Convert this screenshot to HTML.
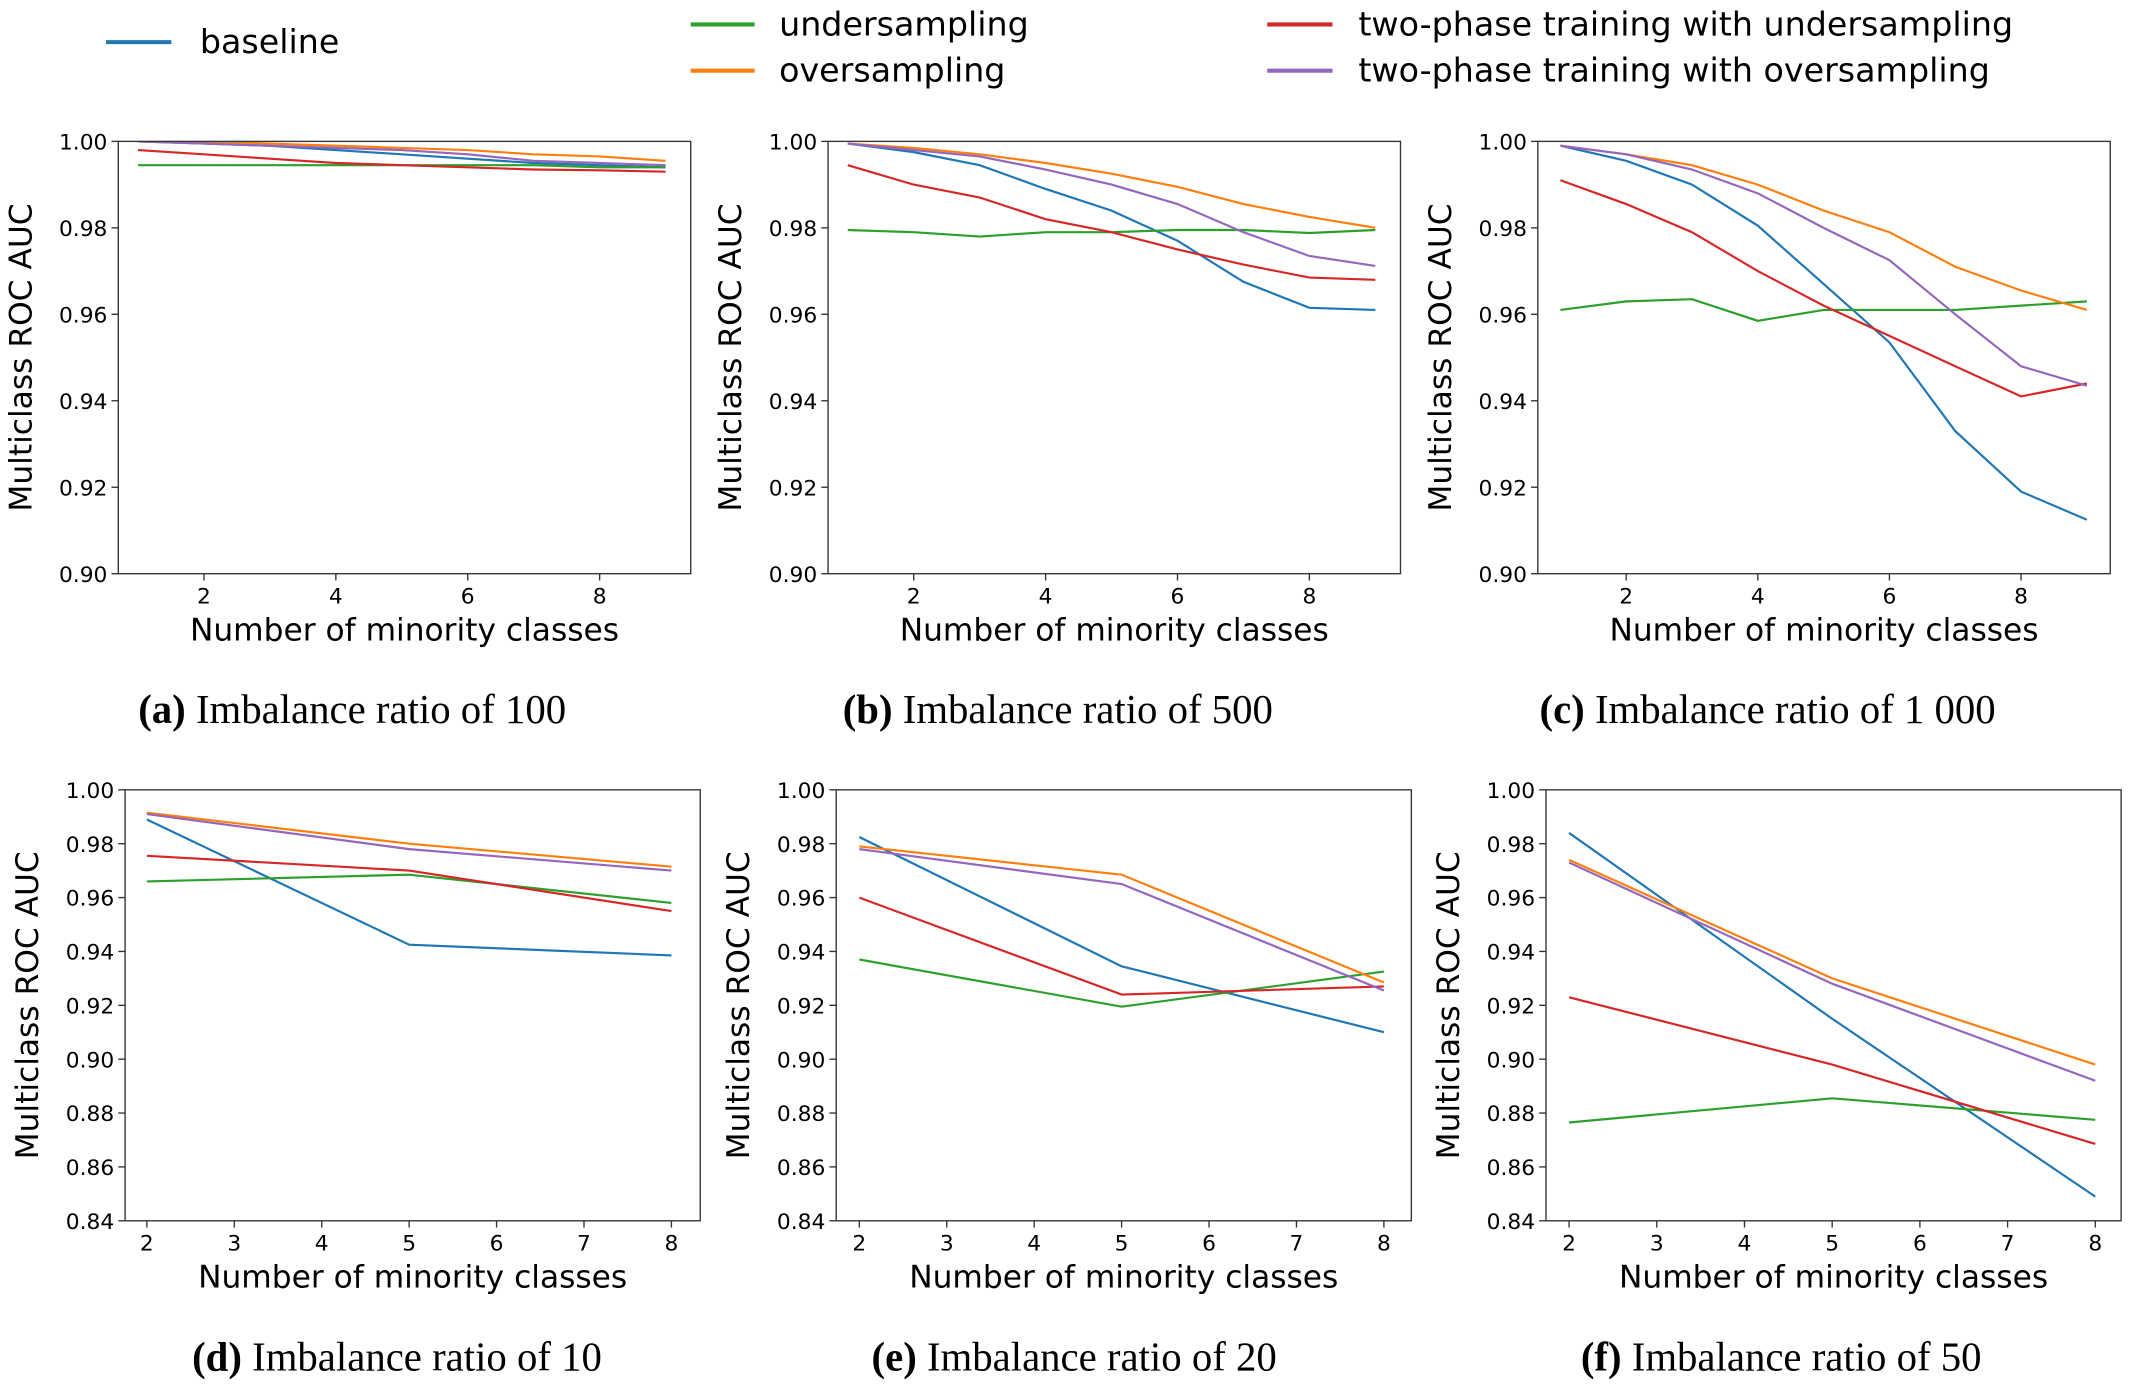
<!DOCTYPE html>
<html><head><meta charset="utf-8"><style>body{margin:0;background:#fff}svg{display:block}</style></head>
<body>
<svg id="s" xmlns="http://www.w3.org/2000/svg" width="2132" height="1388" viewBox="0 0 1568 1021" preserveAspectRatio="none" font-family="'DejaVu Sans','Liberation Sans',sans-serif">
<rect width="1568" height="1021" fill="#fff"/>
<g font-size="24.5" fill="#000">
<line x1="78" y1="31" x2="126" y2="31" stroke="#1f77b4" stroke-width="3"/><text x="147" y="39">baseline</text>
<line x1="508" y1="18" x2="555" y2="18" stroke="#2ca02c" stroke-width="3"/><text x="573" y="26">undersampling</text>
<line x1="508" y1="52" x2="555" y2="52" stroke="#ff7f0e" stroke-width="3"/><text x="573" y="60">oversampling</text>
<line x1="932" y1="18" x2="980" y2="18" stroke="#d62728" stroke-width="3"/><text x="999" y="26">two-phase training with undersampling</text>
<line x1="932" y1="52" x2="980" y2="52" stroke="#9467bd" stroke-width="3"/><text x="999" y="60">two-phase training with oversampling</text>
</g>
</svg>
<script>
const C={b:"#1f77b4",g:"#2ca02c",o:"#ff7f0e",r:"#d62728",p:"#9467bd"};
const s=document.getElementById('s');let h='';
const X9=[1,2,3,4,5,6,7,8,9],X3=[2,5,8];
const P=[
{x0:87,x1:508,y0:104,y1:422,ymin:.90,ymax:1,yt:[.90,.92,.94,.96,.98,1.00],xa:53,xs:48.5,xt:[2,4,6,8],xs_:X9,cap:["(a)","Imbalance ratio of 100"],cx:259,cy:523,
d:{b:[1,.9995,.999,.998,.997,.996,.995,.9945,.994],g:[.9945,.9945,.9945,.9945,.9945,.9945,.9945,.994,.994],o:[1,1,.9995,.999,.9985,.998,.997,.9965,.9955],r:[.998,.997,.996,.995,.9945,.994,.9935,.9933,.993],p:[1,.9995,.999,.9985,.998,.997,.9955,.995,.9945]}},
{x0:609,x1:1030,y0:104,y1:422,ymin:.90,ymax:1,yt:[.90,.92,.94,.96,.98,1.00],xa:575,xs:48.5,xt:[2,4,6,8],xs_:X9,cap:["(b)","Imbalance ratio of 500"],cx:778,cy:523,
d:{b:[.9995,.9975,.9945,.989,.984,.977,.9675,.9615,.961],g:[.9795,.979,.978,.979,.979,.9795,.9795,.9788,.9795],o:[.9995,.9985,.997,.995,.9925,.9895,.9855,.9825,.98],r:[.9945,.990,.987,.982,.979,.975,.9715,.9685,.968],p:[.9995,.998,.9965,.9935,.990,.9855,.979,.9735,.9712]}},
{x0:1131,x1:1552,y0:104,y1:422,ymin:.90,ymax:1,yt:[.90,.92,.94,.96,.98,1.00],xa:1099.2,xs:48.4,xt:[2,4,6,8],xs_:X9,cap:["(c)","Imbalance ratio of 1 000"],cx:1300,cy:523,
d:{b:[.999,.9955,.990,.9805,.967,.9535,.933,.919,.9125],g:[.961,.963,.9635,.9585,.961,.961,.961,.962,.963],o:[.999,.997,.9945,.990,.984,.979,.971,.9655,.961],r:[.991,.9855,.979,.970,.962,.955,.948,.941,.944],p:[.999,.997,.9935,.988,.980,.9725,.960,.948,.9435]}},
{x0:92,x1:515,y0:581,y1:898,ymin:.84,ymax:1,yt:[.84,.86,.88,.90,.92,.94,.96,.98,1.00],xa:108-64.3*2,xs:64.3,xt:[2,3,4,5,6,7,8],xs_:X3,cap:["(d)","Imbalance ratio of 10"],cx:292,cy:999,
d:{b:[.989,.9425,.9385],g:[.966,.9685,.958],o:[.9915,.980,.9715],r:[.9755,.970,.955],p:[.991,.978,.970]}},
{x0:615,x1:1038,y0:581,y1:898,ymin:.84,ymax:1,yt:[.84,.86,.88,.90,.92,.94,.96,.98,1.00],xa:632-64.3*2,xs:64.3,xt:[2,3,4,5,6,7,8],xs_:X3,cap:["(e)","Imbalance ratio of 20"],cx:790,cy:999,
d:{b:[.9825,.9345,.910],g:[.937,.9195,.9325],o:[.979,.9685,.9285],r:[.960,.924,.927],p:[.978,.965,.9255]}},
{x0:1137,x1:1560,y0:581,y1:898,ymin:.84,ymax:1,yt:[.84,.86,.88,.90,.92,.94,.96,.98,1.00],xa:1154-64.5*2,xs:64.5,xt:[2,3,4,5,6,7,8],xs_:X3,cap:["(f)","Imbalance ratio of 50"],cx:1310,cy:999,
d:{b:[.984,.915,.849],g:[.8765,.8855,.8775],o:[.974,.930,.898],r:[.923,.898,.8685],p:[.973,.928,.892]}}
];
for(const p of P){
 const Y=v=>p.y1-(v-p.ymin)/(p.ymax-p.ymin)*(p.y1-p.y0);
 const Xf=x=>p.xa+x*p.xs;
 h+=`<defs><clipPath id="c${p.x0}"><rect x="${p.x0}" y="${p.y0}" width="${p.x1-p.x0}" height="${p.y1-p.y0}"/></clipPath></defs>`;
 for(const k of ["b","g","o","r","p"]){
  const pts=p.d[k].map((v,i)=>Xf(p.xs_[i]).toFixed(1)+","+Y(v).toFixed(1)).join(" ");
  h+=`<polyline clip-path="url(#c${p.x0})" points="${pts}" fill="none" stroke="${C[k]}" stroke-width="1.6"/>`;
 }
 h+=`<rect x="${p.x0}" y="${p.y0}" width="${p.x1-p.x0}" height="${p.y1-p.y0}" fill="none" stroke="#333" stroke-width="1"/>`;
 for(const t of p.yt){const y=Y(t);h+=`<line x1="${p.x0-5}" x2="${p.x0}" y1="${y}" y2="${y}" stroke="#333"/><text x="${p.x0-8}" y="${y+6}" font-size="16" text-anchor="end">${t.toFixed(2)}</text>`;}
 for(const t of p.xt){const x=Xf(t);h+=`<line x1="${x}" x2="${x}" y1="${p.y1}" y2="${p.y1+5}" stroke="#333"/><text x="${x}" y="${p.y1+22}" font-size="16" text-anchor="middle">${t}</text>`;}
 const mx=(p.x0+p.x1)/2,my=(p.y0+p.y1)/2;
 h+=`<text x="${mx}" y="${p.y1+49}" font-size="23" text-anchor="middle">Number of minority classes</text>`;
 h+=`<text transform="translate(${p.x0-64},${my}) rotate(-90)" font-size="23" text-anchor="middle">Multiclass ROC AUC</text>`;
 h+=`<text x="${p.cx}" y="${p.cy+9}" font-size="30" text-anchor="middle" font-family="'Liberation Serif',serif"><tspan font-weight="bold">${p.cap[0]}</tspan> ${p.cap[1]}</text>`;
}
s.insertAdjacentHTML('beforeend',h);
</script>
</body></html>
